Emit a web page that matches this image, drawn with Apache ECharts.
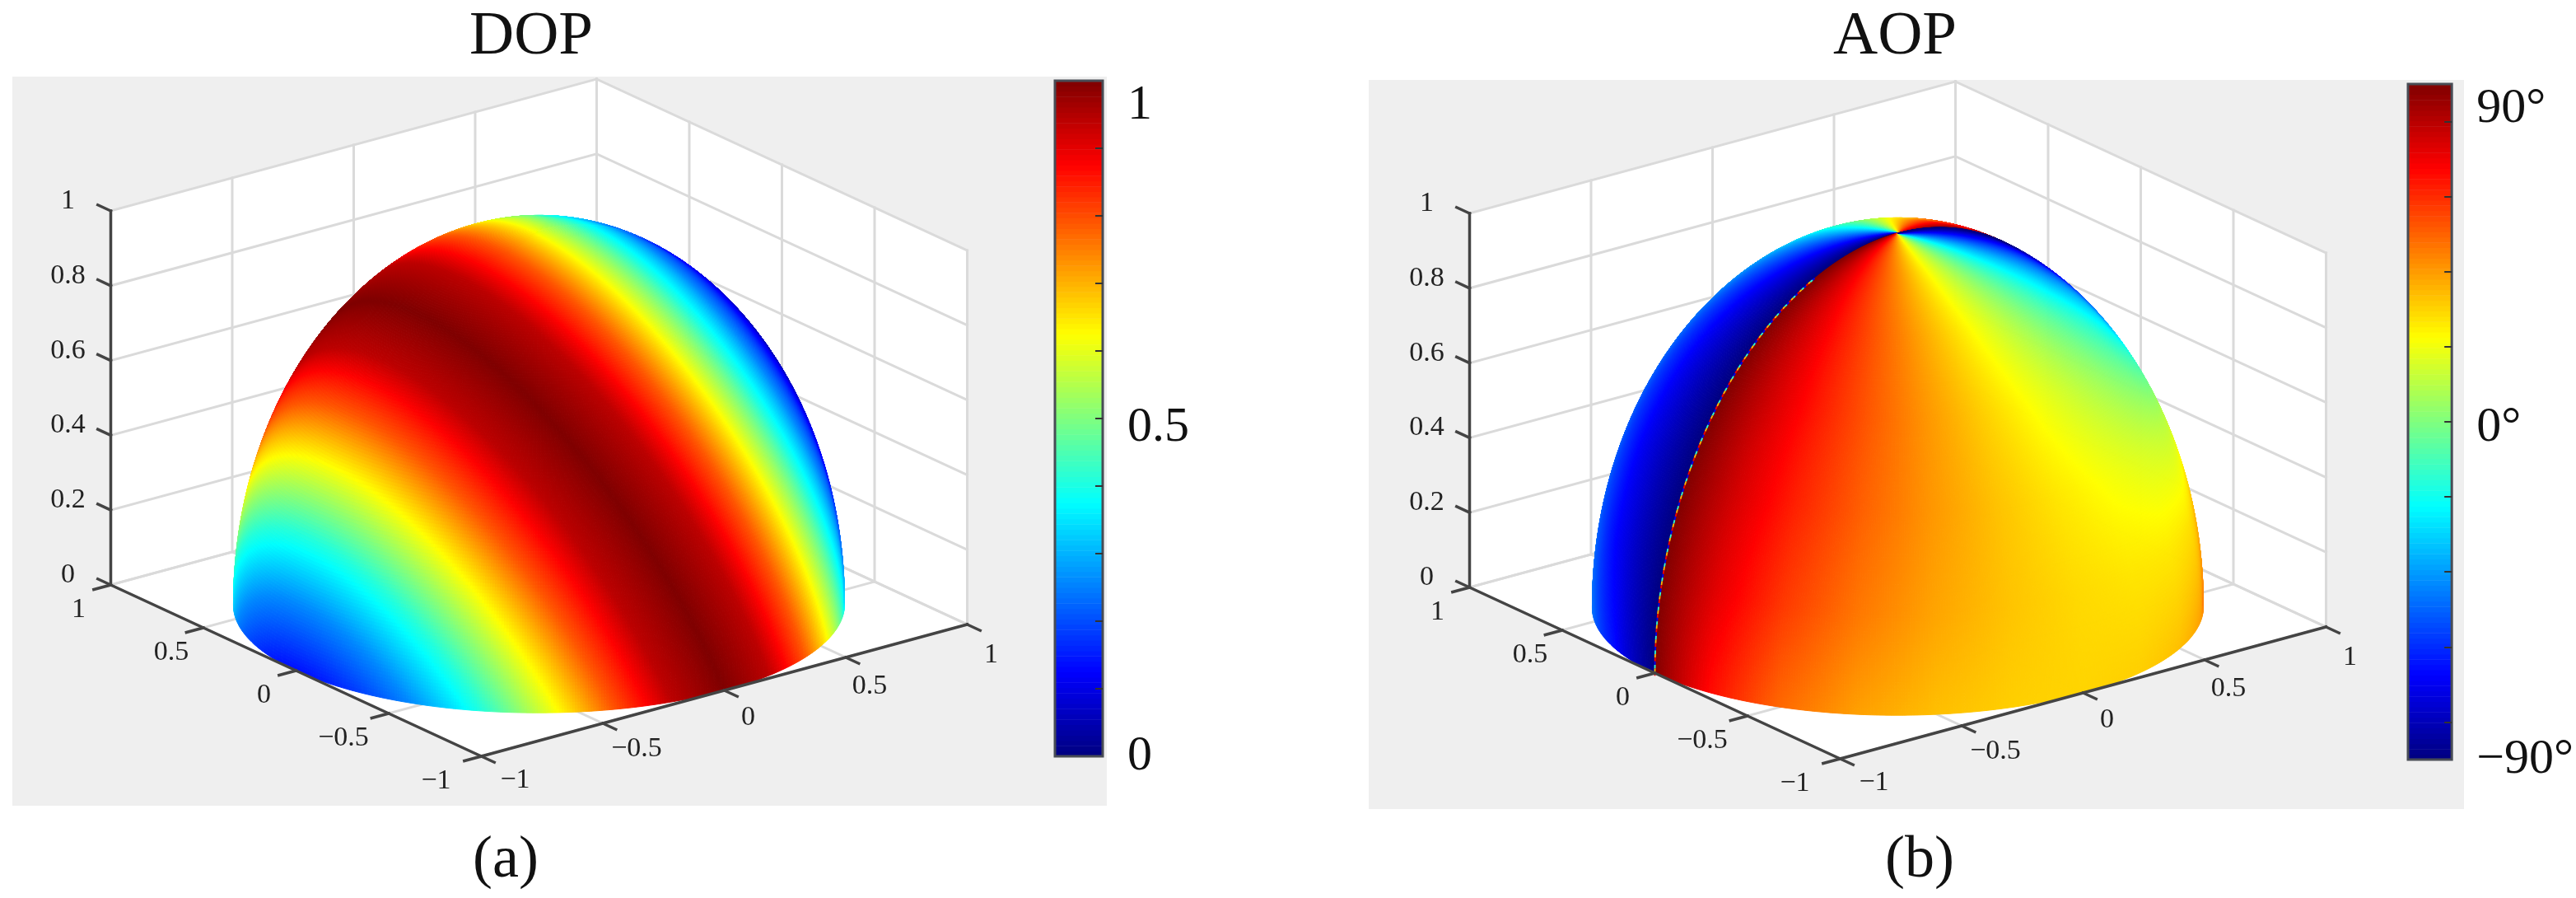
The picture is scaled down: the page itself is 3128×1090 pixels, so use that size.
<!DOCTYPE html>
<html>
<head>
<meta charset="utf-8">
<style>
html, body { margin: 0; padding: 0; background: #fff; }
#mycontainer { width: 3128px; height: 1090px; }
</style>
<script src="https://cdn.jsdelivr.net/npm/echarts@6/dist/echarts.min.js"></script>
</head>
<body>
<div id="mycontainer"></div>
<script>
// tick values
var zTicks = [0, 0.2, 0.4, 0.6, 0.8, 1];
var xyTicks = [-1, -0.5, 0, 0.5, 1];
var dopBarTicks = [0.1, 0.2, 0.3, 0.4, 0.5, 0.6, 0.7, 0.8, 0.9];
var dopBarLabels = [0, 0.5, 1];
var aopBarTicks = [-80, -60, -40, -20, 0, 20, 40, 60, 80];
var aopBarLabels = [-90, 0, 90];

// angle of the bright band's axis from the zenith
var sunZenith = 60;

// DOP read across the bands, by angle from the band axis (degrees)
var dopAngle = [0, 10, 20, 30, 40, 50, 60, 70, 80, 90];
var dopLevel = [0, 0.015, 0.06, 0.14, 0.26, 0.41, 0.6, 0.79, 0.94, 1];

// AOP (degrees) read by zenith angle (rows) and azimuth from the seam (columns).
// The back half of the dome is the same table with the sign flipped.
var aopAzimuth = [0, 15, 30, 45, 60, 75, 90, 105, 120, 135, 150, 165, 180];
var aopZenith = [0, 15, 30, 45, 60, 75, 90];
var aopLevel = [
    [90, 75, 60, 45, 30, 15, 0, -15, -30, -45, -60, -75, -90],
    [90, 76.6, 63.1, 49.6, 36.1, 22.5, 8.5, -5.9, -21.1, -37, -54, -71.7, -90],
    [90, 77, 64.3, 51.9, 39.8, 28, 16.1, 3.8, -9.5, -24.6, -42.7, -64.7, -90],
    [90, 76.7, 63.9, 52.1, 41.3, 31.5, 22.2, 13.1, 3.6, -7.4, -22.2, -46.7, -90],
    [90, 75.2, 61.8, 50.4, 40.9, 33.1, 26.6, 21, 16.1, 11.7, 7.6, 3.8, 0],
    [90, 72.2, 57.4, 46.3, 38.4, 32.9, 29.1, 26.9, 26.3, 27.9, 33.7, 49.9, 90],
    [90, 65.9, 49.1, 39.2, 33.7, 30.9, 30, 30.9, 33.7, 39.2, 49.1, 65.9, 90]
];
// the speckled colours along the AOP seam
var seamLevel = [-70, -15, 35, 70];

var jetColors = ['#00007f', '#0000ff', '#007fff', '#00ffff', '#7fff7f', '#ffff00', '#ff7f00', '#ff0000', '#7f0000'];
var fontName = '"Liberation Serif", serif';
var rad = Math.PI / 180;
var cellStep = 0.5;
var barBands = 128;

// the tilted box: how one data unit along x, y, z lands on the flat panel
var viewX = [295, 80];
var viewY = [-225, 104];
var viewZ = [0, 454];
// direction the dome is looked at from
var eye = [-102150, -133930, 48680];

function project(x, y, z) {
    return [viewX[0] * x + viewY[0] * y + viewZ[0] * z, viewX[1] * x + viewY[1] * y + viewZ[1] * z];
}

function lookup(xs, ys, v) {
    for (var i = 1; i < xs.length; i++) {
        if (v <= xs[i]) {
            return ys[i - 1] + (ys[i] - ys[i - 1]) * (v - xs[i - 1]) / (xs[i] - xs[i - 1]);
        }
    }
    return ys[ys.length - 1];
}

function spherePoint(az, zen) {
    var s = Math.sin(zen * rad);
    return [-s * Math.cos(az * rad), -s * Math.sin(az * rad), Math.cos(zen * rad)];
}

function dopAt(az, zen) {
    var p = spherePoint(az, zen);
    var c = p[0] * Math.sin(sunZenith * rad) + p[2] * Math.cos(sunZenith * rad);
    var a = Math.acos(Math.abs(c)) / rad;
    return lookup(dopAngle, dopLevel, a);
}

function aopAt(az, zen) {
    var a = Math.abs(az);
    var row = aopZenith.length - 2;
    for (var i = 0; i < aopZenith.length - 1; i++) {
        if (zen <= aopZenith[i + 1]) { row = i; break; }
    }
    var t = (zen - aopZenith[row]) / (aopZenith[row + 1] - aopZenith[row]);
    var v0 = lookup(aopAzimuth, aopLevel[row], a);
    var v1 = lookup(aopAzimuth, aopLevel[row + 1], a);
    var v = v0 + (v1 - v0) * t;
    return az < 0 ? -v : v;
}

// small shaded cells over the visible dome, each looked up in the read tables
function buildSurface(levelAt) {
    var rows = [];
    for (var az = -180; az < 180; az += cellStep) {
        for (var zen = 0; zen < 90; zen += cellStep) {
            var p = spherePoint(az + cellStep / 2, zen + cellStep / 2);
            var facing = p[0] * eye[0] + p[1] * eye[1] + p[2] * eye[2];
            if (facing > -3000) {
                rows.push([az, zen, levelAt(az + cellStep / 2, zen + cellStep / 2)]);
            }
        }
    }
    return rows;
}

function surfaceItem(params, api) {
    var az = api.value(0), zen = api.value(1);
    var corners = [[az, zen], [az + cellStep, zen], [az + cellStep, zen + cellStep], [az, zen + cellStep]];
    var pts = corners.map(function (c) {
        var p = spherePoint(c[0], c[1]);
        return api.coord(project(p[0], p[1], p[2]));
    });
    var color = api.visual('color');
    return {
        type: 'polygon',
        shape: { points: pts },
        style: { fill: color, stroke: color, lineWidth: 1 },
        silent: true
    };
}

// rows of [x1, y1, z1, x2, y2, z2]
function segmentSeries(gridIndex, rows, color, width, z) {
    return {
        type: 'custom',
        xAxisIndex: gridIndex,
        yAxisIndex: gridIndex,
        coordinateSystem: 'cartesian2d',
        clip: false,
        silent: true,
        z: z,
        data: rows,
        encode: { x: -1, y: -1 },
        renderItem: function (params, api) {
            var a = api.coord(project(api.value(0), api.value(1), api.value(2)));
            var b = api.coord(project(api.value(3), api.value(4), api.value(5)));
            return {
                type: 'line',
                shape: { x1: a[0], y1: a[1], x2: b[0], y2: b[1] },
                style: { stroke: color, lineWidth: width, lineCap: 'square' }
            };
        }
    };
}

function formatTick(v) {
    return (v < 0 ? '\u2212' : '') + Math.abs(v);
}

// rows of [x, y, z, tick value]; offsetOf gives the label's nudge off its tick
function labelSeries(gridIndex, rows, offsetOf) {
    return {
        type: 'custom',
        xAxisIndex: gridIndex,
        yAxisIndex: gridIndex,
        coordinateSystem: 'cartesian2d',
        clip: false,
        silent: true,
        z: 6,
        data: rows,
        encode: { x: -1, y: -1 },
        renderItem: function (params, api) {
            var a = api.coord(project(api.value(0), api.value(1), api.value(2)));
            var off = offsetOf(api.value(3));
            return {
                type: 'text',
                x: a[0] + off[0],
                y: a[1] + off[1],
                style: {
                    text: formatTick(api.value(3)),
                    font: '34px ' + fontName,
                    fill: '#222',
                    align: 'center',
                    verticalAlign: 'middle'
                }
            };
        }
    };
}

function wallSeries(gridIndex) {
    var walls = [
        [-1, 1, 0, 1, 1, 0, 1, 1, 1, -1, 1, 1],
        [1, 1, 0, 1, -1, 0, 1, -1, 1, 1, 1, 1],
        [-1, -1, 0, 1, -1, 0, 1, 1, 0, -1, 1, 0]
    ];
    return {
        type: 'custom',
        xAxisIndex: gridIndex,
        yAxisIndex: gridIndex,
        coordinateSystem: 'cartesian2d',
        clip: false,
        silent: true,
        z: 1,
        data: walls,
        encode: { x: -1, y: -1 },
        renderItem: function (params, api) {
            var pts = [];
            for (var i = 0; i < 4; i++) {
                pts.push(api.coord(project(api.value(i * 3), api.value(i * 3 + 1), api.value(i * 3 + 2))));
            }
            return { type: 'polygon', shape: { points: pts }, style: { fill: '#fff' } };
        }
    };
}

function boxSeries(gridIndex) {
    var grid = [];
    xyTicks.forEach(function (t) {
        grid.push([t, 1, 0, t, 1, 1]);
        grid.push([1, t, 0, 1, t, 1]);
        grid.push([t, -1, 0, t, 1, 0]);
        grid.push([-1, t, 0, 1, t, 0]);
    });
    zTicks.forEach(function (t) {
        grid.push([-1, 1, t, 1, 1, t]);
        grid.push([1, 1, t, 1, -1, t]);
    });
    return [wallSeries(gridIndex), segmentSeries(gridIndex, grid, '#dadada', 3, 2)];
}

function axisSeries(gridIndex) {
    var lines = [[-1, 1, 0, -1, 1, 1], [-1, 1, 0, -1, -1, 0], [-1, -1, 0, 1, -1, 0]];
    var zLabels = [], yLabels = [], xLabels = [];
    zTicks.forEach(function (t) {
        lines.push([-1, 1, t, -1, 1.07, t]);
        zLabels.push([-1, 1, t, t]);
    });
    xyTicks.forEach(function (t) {
        lines.push([-1, t, 0, -1.07, t, 0]);
        lines.push([t, -1, 0, t, -1.07, 0]);
        yLabels.push([-1, t, 0, t]);
        xLabels.push([t, -1, 0, t]);
    });
    return [
        segmentSeries(gridIndex, lines, '#444', 3.5, 5),
        labelSeries(gridIndex, zLabels, function () { return [-52, -12]; }),
        labelSeries(gridIndex, yLabels, function (t) { return [t < 0 ? -55 : -39, 30]; }),
        labelSeries(gridIndex, xLabels, function (t) { return [t < 0 ? 41 : 29, 33 + 4 * t]; })
    ];
}

function surfaceSeries(gridIndex, rows) {
    return {
        type: 'custom',
        xAxisIndex: gridIndex,
        yAxisIndex: gridIndex,
        coordinateSystem: 'cartesian2d',
        clip: false,
        silent: true,
        z: 3,
        data: rows,
        encode: { x: -1, y: -1 },
        progressive: 0,
        renderItem: surfaceItem
    };
}

function seamSeries(gridIndex) {
    var rows = [];
    var n = 0;
    for (var zen = 20; zen < 90; zen += 0.55) {
        rows.push([0, zen, seamLevel[n % seamLevel.length]]);
        n++;
    }
    return {
        type: 'custom',
        xAxisIndex: gridIndex,
        yAxisIndex: gridIndex,
        coordinateSystem: 'cartesian2d',
        clip: false,
        silent: true,
        z: 4,
        data: rows,
        encode: { x: -1, y: -1 },
        renderItem: function (params, api) {
            var zen = api.value(1);
            var p = spherePoint(0, zen), q = spherePoint(0, zen + 0.55);
            var a = api.coord(project(p[0], p[1], p[2]));
            var b = api.coord(project(q[0], q[1], q[2]));
            return {
                type: 'line',
                shape: { x1: a[0], y1: a[1], x2: b[0], y2: b[1] },
                style: { stroke: api.visual('color'), lineWidth: 1.8 }
            };
        }
    };
}

// the colour bar: thin flat bands
function barSeries(gridIndex, min, max) {
    var rows = [];
    var step = (max - min) / barBands;
    for (var i = 0; i < barBands; i++) {
        rows.push([0, min + i * step, min + (i + 0.5) * step]);
    }
    return {
        type: 'custom',
        xAxisIndex: gridIndex,
        yAxisIndex: gridIndex,
        coordinateSystem: 'cartesian2d',
        silent: true,
        z: 3,
        data: rows,
        encode: { x: -1, y: -1 },
        renderItem: function (params, api) {
            var a = api.coord([0, api.value(1)]);
            var b = api.coord([1, api.value(1) + step]);
            return {
                type: 'rect',
                shape: { x: a[0], y: b[1], width: b[0] - a[0], height: a[1] - b[1] + 0.5 },
                style: { fill: api.visual('color') }
            };
        }
    };
}

function barFrame(gridIndex, min, max) {
    return {
        type: 'custom',
        xAxisIndex: gridIndex,
        yAxisIndex: gridIndex,
        coordinateSystem: 'cartesian2d',
        clip: false,
        silent: true,
        z: 4,
        data: [[0]],
        encode: { x: -1, y: -1 },
        renderItem: function (params, api) {
            var a = api.coord([0, min]);
            var b = api.coord([1, max]);
            return {
                type: 'rect',
                shape: { x: a[0], y: b[1], width: b[0] - a[0], height: a[1] - b[1] },
                style: { fill: 'none', stroke: '#484c55', lineWidth: 3 }
            };
        }
    };
}

function hiddenAxis(gridIndex, min, max) {
    return { type: 'value', gridIndex: gridIndex, min: min, max: max, show: false };
}

function barAxis(gridIndex, min, max, ticks, labels, suffix, midDrop) {
    return {
        type: 'value',
        gridIndex: gridIndex,
        position: 'right',
        min: min,
        max: max,
        z: 6,
        splitLine: { show: false },
        axisLine: { show: false, onZero: false },
        axisTick: {
            inside: true,
            length: 9,
            customValues: ticks,
            lineStyle: { color: '#333', width: 2 }
        },
        axisLabel: {
            customValues: labels,
            margin: 30,
            verticalAlignMaxLabel: 'top',
            color: '#111',
            fontFamily: fontName,
            fontSize: 60,
            rich: {
                mid: { fontFamily: fontName, fontSize: 60, color: '#111', padding: [midDrop, 0, 0, 0] }
            },
            formatter: function (v) {
                var text = formatTick(v) + suffix;
                return v === labels[1] ? '{mid|' + text + '}' : text;
            }
        }
    };
}

function textTitle(text, x, y, size) {
    return {
        text: text,
        left: x,
        top: y,
        textAlign: 'center',
        textStyle: { fontFamily: fontName, fontSize: size, fontWeight: 'normal', color: '#111' }
    };
}

var dom = document.getElementById('mycontainer');
var chart = echarts.init(dom, null, { renderer: 'canvas' });

var dopSeries = [].concat(
    boxSeries(0),
    [surfaceSeries(0, buildSurface(dopAt))],
    axisSeries(0),
    [barSeries(1, 0, 1), barFrame(1, 0, 1)]
);
var firstAop = dopSeries.length;
var aopSeries = [].concat(
    boxSeries(2),
    [surfaceSeries(2, buildSurface(aopAt)), seamSeries(2)],
    axisSeries(2),
    [barSeries(3, -90, 90), barFrame(3, -90, 90)]
);
var allSeries = dopSeries.concat(aopSeries);

var option = {
    animation: false,
    backgroundColor: '#fff',
    title: [
        textTitle('DOP', 640, 3, 75),
        textTitle('AOP', 2296, 3, 75),
        textTitle('(a)', 609, 1004, 72),
        textTitle('(b)', 2326, 1004, 72)
    ],
    grid: [
        { left: 15, top: 93, width: 1329, height: 885, show: true, backgroundColor: '#efefef', borderWidth: 0 },
        { left: 1281, top: 98, width: 58, height: 820 },
        { left: 1662, top: 97, width: 1330, height: 885, show: true, backgroundColor: '#efefef', borderWidth: 0 },
        { left: 2924, top: 102, width: 58, height: 820 }
    ],
    xAxis: [
        hiddenAxis(0, -639.5, 689.5),
        hiddenAxis(1, 0, 1),
        hiddenAxis(2, -642.5, 687.5),
        hiddenAxis(3, 0, 1)
    ],
    yAxis: [
        hiddenAxis(0, -244, 641),
        barAxis(1, 0, 1, dopBarTicks, dopBarLabels, '', 22),
        hiddenAxis(2, -245, 640),
        barAxis(3, -90, 90, aopBarTicks, aopBarLabels, '\u00b0', 14)
    ],
    visualMap: [
        {
            show: false, type: 'continuous', min: 0, max: 1, dimension: 2,
            seriesIndex: [2, firstAop - 2],
            inRange: { color: jetColors }
        },
        {
            show: false, type: 'continuous', min: -90, max: 90, dimension: 2,
            seriesIndex: [firstAop + 2, firstAop + 3, allSeries.length - 2],
            inRange: { color: jetColors }
        }
    ],
    series: allSeries
};

chart.setOption(option);
</script>
</body>
</html>
